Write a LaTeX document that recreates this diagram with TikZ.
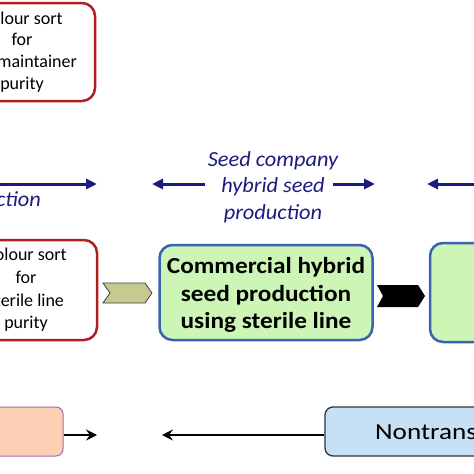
\documentclass[tikz,border=0pt]{standalone}
\usepackage{fontspec}
\setmainfont{Carlito}
\newfontfamily\widefont[FakeStretch=1.1]{Carlito}
\newfontfamily\lblfont[FakeStretch=1.04]{Carlito}
\newfontfamily\nontrfont[FakeStretch=1.18]{Carlito}
\usetikzlibrary{arrows.meta}
\definecolor{sortred}{HTML}{B01E22}
\definecolor{boxblue}{HTML}{3A62AE}
\definecolor{boxgreen}{HTML}{CCF5B6}
\definecolor{lblnavy}{HTML}{1C1C7E}
\definecolor{chevkhaki}{HTML}{C6C990}
\definecolor{peach}{HTML}{FDD0B6}
\definecolor{peachedge}{HTML}{9A70B2}
\definecolor{lightblue}{HTML}{C6E0F6}
\tikzset{
  sortbox/.style={draw=sortred, line width=2.5pt, rounded corners=13pt, fill=white, align=center, inner sep=0pt},
  greenbox/.style={draw=boxblue, line width=2.5pt, rounded corners=13pt, fill=boxgreen, align=center, inner sep=0pt},
  peachbox/.style={draw=peachedge, line width=1pt, rounded corners=7pt, fill=peach, inner sep=0pt},
  bluebox/.style={draw=black!80, line width=1.3pt, rounded corners=8pt, fill=lightblue, inner sep=0pt},
  navyarrow/.style={draw=lblnavy, line width=3pt, -{Triangle[length=11pt,width=10pt]}},
  blackarrow/.style={draw=black, line width=1.6pt, -{Stealth[length=11pt,width=11pt,inset=4pt]}},
  lbl/.style={text=lblnavy, align=center, inner sep=0pt, font=\lblfont\itshape\fontsize{21.5}{26.5}\selectfont},
  sorttext/.style={font=\fontsize{18}{21.8}\selectfont},
}
\begin{document}
\begin{tikzpicture}[x=1pt,y=-1pt]
\useasboundingbox (0,0) rectangle (474,474);
\fill[white] (0,0) rectangle (474,474);

% top colour sort box
\node[sortbox, sorttext, minimum width=146pt, minimum height=98pt] (sortA) at (22,52)
  {Colour sort\\for\\\hspace*{30pt}maintainer\\purity};

% arrows and labels row
\coordinate (a1s) at (-10,184);
\coordinate (a1e) at (97,184);
\draw[navyarrow] (a1s) -- (a1e);
\node[lbl, anchor=base east] (lblA) at (41,206) {production};

\node[lbl] (lblB) at (273,187) {Seed company\\hybrid seed\\production};
\coordinate (a2s) at (205,184);
\coordinate (a2e) at (152,184);
\draw[navyarrow] (a2s) -- (a2e);
\coordinate (a3s) at (333,184);
\coordinate (a3e) at (375,184);
\draw[navyarrow] (a3s) -- (a3e);
\coordinate (a4s) at (484,184);
\coordinate (a4e) at (427,184);
\draw[navyarrow] (a4s) -- (a4e);

% middle row
\node[sortbox, font=\fontsize{18}{22.7}\selectfont, minimum width=142pt, minimum height=100pt] (sortB) at (26,290)
  {Colour sort\\for\\sterile line\\purity};

\draw[draw=black!75, line width=0.8pt, fill=chevkhaki]
  (103,283) -- (145,283) -- (152,293) -- (145,303) -- (103,303) -- (110,293) -- cycle;

\node[greenbox, minimum width=213pt, minimum height=95pt] (comm) at (266,292.5) {};
\node[align=center, inner sep=0pt, font=\widefont\bfseries\fontsize{23}{27.5}\selectfont] (commtext) at (266,295)
  {Commercial hybrid\\seed production\\using sterile line};

\fill[black] (377,285) -- (418,285) -- (425,296) -- (418,307) -- (377,307) -- (383,296) -- cycle;

\node[greenbox, minimum width=110pt, minimum height=99pt] (next) at (485,292.5) {};

% bottom row
\node[peachbox, minimum width=123pt, minimum height=49pt] (peachA) at (1.5,431.5) {};
\coordinate (b1) at (97,435);
\draw[blackarrow] (peachA.east |- b1) -- (b1);

\node[bluebox, minimum width=235pt, minimum height=49pt] (nontr) at (442.5,431.5) {};
\node[anchor=base west, inner sep=0pt, font=\nontrfont\fontsize{23}{27}\selectfont] (nontrtext) at (375,439) {Nontransgenic};
\coordinate (b2) at (162,435);
\draw[blackarrow] (nontr.west |- b2) -- (b2);
\end{tikzpicture}
\end{document}
